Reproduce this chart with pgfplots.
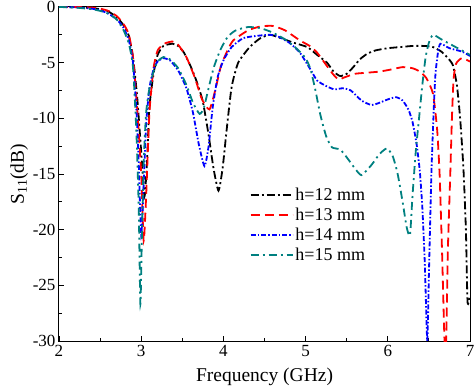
\documentclass[border=0pt]{standalone}
\usepackage{pgfplots}
\pgfplotsset{compat=1.18}
\usepackage{fontspec}
\setmainfont{Liberation Serif}
\definecolor{tealc}{RGB}{0,128,128}
\newcommand\tickfont{\fontsize{17}{17}\selectfont}
\newcommand\labfont{\fontsize{19.5}{19.5}\selectfont}
\newcommand\legfont{\fontsize{18}{20}\selectfont}
\begin{document}
\begin{tikzpicture}
\begin{axis}[
  scale only axis, width=411pt, height=334pt,
  xmin=2, xmax=7, ymin=-30, ymax=0,
  xtick={2,3,4,5,6,7}, ytick={-30,-25,-20,-15,-10,-5,0},
  minor x tick num=1, minor y tick num=1,
  tick pos=left, tick align=inside,
  major tick length=5pt, minor tick length=3pt,
  axis line style={line width=1pt}, tick style={line width=0.9pt, black},
  /pgf/number format/assume math mode=true,
  ticklabel style={font=\tickfont},
  xticklabel style={yshift=-1pt},
  xlabel={Frequency (GHz)}, ylabel={S\textsubscript{11}(dB)},
  label style={font=\labfont},
  xlabel style={at={(axis description cs:0.5,0)}, anchor=base, yshift=-40pt},
  ylabel style={yshift=-2pt},
  legend style={at={(axis cs:4.28,-15.9)}, anchor=north west, draw=none, fill=none,
    font=\legfont, row sep=2pt},
  legend cell align=left,
  legend image code/.code={\draw[#1] (0pt,0pt) -- (42pt,0pt);},
  clip=true,
]
\addplot[black, line width=1.8pt, dash pattern=on 8pt off 3pt on 2pt off 3pt, smooth, tension=0.35] coordinates {
(2.0,0) (2.2,-0.02) (2.4,-0.1) (2.5,-0.2) (2.6,-0.4) (2.7,-0.9) (2.75,-1.3) (2.8,-1.8) (2.85,-2.6) (2.9,-4.5) (2.95,-8) (3.0,-13) (3.04,-17) (3.07,-14) (3.1,-9) (3.15,-6) (3.2,-4.3) (3.27,-3.5) (3.38,-3.3) (3.45,-3.5) (3.52,-4.1) (3.6,-5.3) (3.68,-6.8) (3.75,-8.5) (3.82,-11.5) (3.88,-14.5) (3.94,-16.5) (3.99,-14.5) (4.04,-11) (4.1,-7.2) (4.18,-5) (4.32,-3.6) (4.45,-2.8) (4.57,-2.5) (4.7,-2.8) (4.85,-3.2) (5.02,-3.6) (5.14,-4.3) (5.26,-5.0) (5.34,-5.8) (5.42,-6.2) (5.5,-6.0) (5.58,-5.4) (5.66,-4.7) (5.75,-4.2) (5.85,-3.9) (6.0,-3.7) (6.15,-3.6) (6.3,-3.5) (6.45,-3.5) (6.55,-3.6) (6.65,-4.0) (6.72,-4.5) (6.79,-5.2) (6.84,-7) (6.88,-10) (6.92,-14.5) (6.95,-20) (6.97,-26.5) (7.0,-26)
};
\addlegendentry{h=12 mm}
\addplot[red, line width=1.8pt, dash pattern=on 9pt off 5pt, smooth, tension=0.35] coordinates {
(2.0,0) (2.2,0) (2.4,-0.05) (2.5,-0.15) (2.6,-0.35) (2.7,-0.8) (2.75,-1.2) (2.8,-1.7) (2.85,-2.5) (2.9,-4.5) (2.95,-9) (3.0,-15) (3.03,-21) (3.06,-17) (3.1,-9.5) (3.15,-5.5) (3.2,-3.9) (3.28,-3.3) (3.38,-3.1) (3.45,-3.4) (3.55,-4.5) (3.65,-6.3) (3.74,-8.3) (3.83,-9.2) (3.9,-7.5) (3.97,-5.3) (4.05,-3.9) (4.12,-3.0) (4.3,-2.1) (4.45,-1.75) (4.6,-1.7) (4.75,-2.1) (4.93,-3.0) (5.05,-3.5) (5.14,-4.1) (5.25,-5.2) (5.33,-6.0) (5.4,-6.5) (5.48,-6.3) (5.6,-6.0) (5.75,-5.9) (5.9,-5.8) (6.05,-5.6) (6.18,-5.4) (6.3,-5.5) (6.39,-5.8) (6.47,-6.4) (6.55,-7.8) (6.6,-11) (6.63,-15) (6.66,-22) (6.69,-30) (6.71,-30) (6.73,-22) (6.76,-15) (6.78,-10) (6.8,-6.5) (6.83,-5.1) (6.9,-4.6) (7.0,-4.9)
};
\addlegendentry{h=13 mm}
\addplot[blue, line width=1.8pt, dash pattern=on 5pt off 2pt on 1.5pt off 2pt, smooth, tension=0.35] coordinates {
(2.0,0) (2.2,-0.03) (2.4,-0.15) (2.5,-0.3) (2.6,-0.6) (2.7,-1.1) (2.78,-1.8) (2.85,-3) (2.9,-5) (2.94,-9) (2.97,-14) (3.0,-20.5) (3.03,-16) (3.06,-10.5) (3.1,-7.3) (3.15,-5.6) (3.2,-4.9) (3.27,-4.6) (3.35,-4.8) (3.45,-5.7) (3.55,-7.3) (3.63,-9.5) (3.7,-12.3) (3.77,-14.3) (3.82,-12.5) (3.87,-9) (3.93,-6.3) (4.0,-4.8) (4.1,-3.6) (4.24,-2.8) (4.4,-2.6) (4.55,-2.5) (4.65,-2.6) (4.8,-3.2) (4.93,-4.1) (5.05,-5.5) (5.14,-6.6) (5.25,-7.1) (5.35,-7.4) (5.45,-7.3) (5.55,-7.5) (5.68,-8.4) (5.8,-8.8) (5.9,-8.6) (6.0,-8.3) (6.1,-8.1) (6.18,-8.4) (6.25,-9.2) (6.3,-10.3) (6.35,-12.3) (6.39,-14.8) (6.42,-18) (6.45,-23) (6.48,-30) (6.5,-24) (6.53,-15) (6.56,-9) (6.58,-6) (6.61,-4.1) (6.64,-3.3) (6.75,-3.7) (6.9,-4.0) (7.0,-4.4)
};
\addlegendentry{h=14 mm}
\addplot[tealc, line width=1.8pt, dash pattern=on 8pt off 4pt on 2pt off 4pt, smooth, tension=0.35] coordinates {
(2.0,0) (2.2,-0.05) (2.4,-0.2) (2.5,-0.35) (2.6,-0.6) (2.7,-1.1) (2.78,-2) (2.85,-3.3) (2.9,-5.4) (2.94,-11) (2.97,-18) (2.99,-26.7) (3.01,-20) (3.03,-14) (3.06,-9.5) (3.1,-7.3) (3.15,-5.8) (3.2,-4.9) (3.27,-4.5) (3.35,-4.7) (3.45,-5.5) (3.55,-7) (3.63,-8.6) (3.71,-9.6) (3.76,-9.1) (3.81,-7.6) (3.88,-5.5) (3.96,-3.9) (4.05,-2.7) (4.15,-2.1) (4.3,-1.8) (4.45,-1.9) (4.6,-2.3) (4.77,-3.0) (4.9,-3.8) (5.0,-4.6) (5.06,-5.6) (5.12,-7.5) (5.18,-9.7) (5.25,-11.6) (5.32,-12.6) (5.42,-12.8) (5.5,-13.5) (5.6,-14.5) (5.68,-15.1) (5.8,-14.2) (5.9,-13.2) (5.99,-12.7) (6.06,-13.4) (6.12,-15) (6.18,-17.5) (6.23,-19.8) (6.27,-20.5) (6.3,-17) (6.34,-13) (6.38,-10) (6.42,-7) (6.46,-4.5) (6.5,-3.2) (6.55,-2.5) (6.65,-2.9) (6.8,-3.5) (7.0,-4.3)
};
\addlegendentry{h=15 mm}
\end{axis}
\pgfresetboundingbox
\useasboundingbox ([xshift=-59pt,yshift=-46pt]current axis.south west) rectangle ([xshift=4pt,yshift=7pt]current axis.north east);
\end{tikzpicture}
\end{document}
